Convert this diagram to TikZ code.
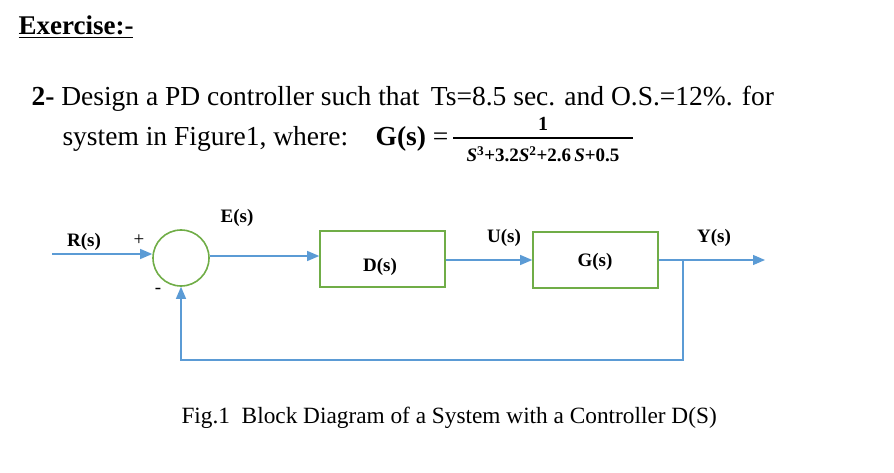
\documentclass[tikz,border=0pt]{standalone}
\usepackage{fontspec}
\setmainfont{Liberation Serif}
\usetikzlibrary{arrows.meta}
\definecolor{ablue}{RGB}{91,155,213}
\definecolor{bgreen}{RGB}{112,173,71}
\begin{document}
\begin{tikzpicture}[x=1pt,y=-1pt,
  sig/.style={draw=ablue,line width=1.2pt,-{Triangle[length=12pt,width=10pt]}},
  blk/.style={draw=bgreen,line width=1.6pt,minimum width=125pt,minimum height=56pt},
  lbl/.style={font=\fontsize{19}{19}\selectfont\bfseries},
  txt/.style={font=\fontsize{27.5}{29}\selectfont,anchor=base west}]
\useasboundingbox (0,0) rectangle (894,473);
\node[anchor=base west,font=\fontsize{27}{29}\selectfont\bfseries] (ex) at (15,35) {\underline{Exercise:-}};
\node[txt] (l1) at (28,106) {\textbf{2-} Design a PD controller such that\, Ts=8.5 sec. and O.S.=12\%. for};
\node[txt,anchor=base east] (l2) at (452,146) {system in Figure1, where:\quad \textbf{G(s)} =};
\node[anchor=base,font=\fontsize{20}{20}\selectfont\bfseries] (num) at (543,131) {1};
\node[anchor=base,font=\fontsize{19}{19}\selectfont\bfseries] (den) at (543,162) {\textit{S}$^{\mathbf 3}$+3.2\textit{S}$^{\mathbf 2}$+2.6\,\textit{S}+0.5};
\draw[line width=1.3pt] (453,138) -- (633,138);
\node[draw=bgreen,line width=1.6pt,circle,minimum size=56pt,inner sep=0] (sum) at (181,258) {};
\node[blk] (D) at (382.5,259) {};
\node[blk] (G) at (595.5,260) {};
\node[lbl] at (380,267) {D(s)};
\node[lbl] at (595,262) {G(s)};
\coordinate (rin) at (52,254);
\coordinate (yout) at (765,260);
\coordinate (tap) at (683,260);
\coordinate (fb) at (683,360);
\draw[sig] (rin) -- (rin -| sum.west);
\draw[sig] (sum.east |- 0,256) -- (D.west |- 0,256);
\draw[sig] (D.east |- 0,260) -- (G.west |- 0,260);
\draw[sig] (G.east |- 0,260) -- (yout);
\draw[sig] (tap) -- (fb) -- (fb -| sum.south) -- (sum.south);
\node[lbl] at (84,242) {R(s)};
\node[font=\fontsize{19}{19}\selectfont] at (139,240) {+};
\node[font=\fontsize{19}{19}\selectfont] at (158,291) {-};
\node[lbl] at (237,218) {E(s)};
\node[lbl] at (504,238) {U(s)};
\node[lbl] at (714,238) {Y(s)};
\node[anchor=base west,font=\fontsize{23.3}{25}\selectfont] (cap) at (178,423) {Fig.1\enspace Block Diagram of a System with a Controller D(S)};
\end{tikzpicture}
\end{document}
